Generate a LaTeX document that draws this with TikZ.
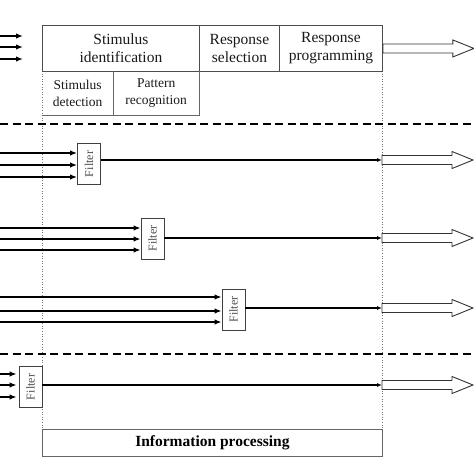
\documentclass[tikz,border=0pt]{standalone}
\usepackage{fontspec}
\setmainfont{Liberation Serif}
\usetikzlibrary{arrows.meta}
\begin{document}
\begin{tikzpicture}[x=1pt,y=-1pt,
  boxline/.style={draw=black!70,line width=0.9pt},
  subline/.style={draw=black!60,line width=0.7pt},
  txt/.style={text=black!90,font=\fontsize{15.5}{18}\selectfont,align=center,inner sep=0pt},
  subtxt/.style={text=black!90,font=\fontsize{13.5}{16.5}\selectfont,align=center,inner sep=0pt},
  filterbox/.style={draw=black!75,line width=0.8pt,minimum width=23pt,minimum height=41pt,inner sep=0pt,
    text=black!70,font=\fontsize{12}{12}\selectfont},
  inarrow/.style={line width=1.8pt,-{Latex[length=7pt,width=5.5pt]}},
  outarrow/.style={line width=1.4pt,-{Latex[length=5pt,width=4pt]}},
  hollowline/.style={draw=black!80,line width=0.9pt,fill=white},
  divider/.style={line width=2pt,dash pattern=on 8pt off 4.5pt},
  guide/.style={draw=black!55,line width=0.6pt,dotted},
  harrow/.pic={\draw[hollowline] (0,-4.5) -- (70,-4.5) -- (70,-8.5) -- (91,0) -- (70,8.5) -- (70,4.5) -- (0,4.5) -- cycle;}
]
\useasboundingbox (0,0) rectangle (474,474);

% guides
\coordinate (gl1) at (42,71);
\coordinate (gl2) at (42,429);
\coordinate (gr1) at (382,71);
\coordinate (gr2) at (382,429);
\draw[guide] (gl1) -- (gl2);
\draw[guide] (gr1) -- (gr2);

% top boxes
\node[boxline,minimum width=157pt,minimum height=46pt,anchor=north west,inner sep=0pt] (si) at (42,25) {};
\node[boxline,minimum width=80pt,minimum height=46pt,anchor=north west,inner sep=0pt] (rs) at (199,25) {};
\node[boxline,minimum width=103pt,minimum height=46pt,anchor=north west,inner sep=0pt] (rp) at (279,25) {};
\node[txt] at (si.center) {Stimulus\\identification};
\node[txt] at (rs.center) {Response\\selection};
\node[txt] at (rp.center) {Response\\programming};

\node[minimum width=71pt,minimum height=44pt,anchor=north west,inner sep=0pt] (sd) at (42,71) {};
\node[minimum width=86pt,minimum height=44pt,anchor=north west,inner sep=0pt] (pr) at (113,71) {};
\draw[subline] (sd.south west) -- (pr.south east) -- (pr.north east);
\draw[subline] (sd.north east) -- (sd.south east);
\node[subtxt] at (sd.center) {Stimulus\\detection};
\node[subtxt] at (pr.center) {Pattern\\recognition};

% top left free arrows
\foreach \y/\n in {36/a,47/b,59/c}{
  \coordinate (ts\n) at (0,\y);
  \coordinate (te\n) at (23,\y);
  \draw[inarrow] (ts\n) -- (te\n);
}
\pic at (rp.east) {harrow};

% dashed dividers
\coordinate (d1a) at (0,124); \coordinate (d1b) at (474,124);
\coordinate (d2a) at (0,354); \coordinate (d2b) at (474,354);
\draw[divider] (d1a) -- (d1b);
\draw[divider] (d2a) -- (d2b);

% filters
\node[filterbox] (f1) at (89,164) {\rotatebox{90}{Filter}};
\node[filterbox] (f2) at (152.5,238.5) {\rotatebox{90}{Filter}};
\node[filterbox] (f3) at (233.5,309.5) {\rotatebox{90}{Filter}};
\node[filterbox] (f4) at (30.5,387) {\rotatebox{90}{Filter}};

% inputs
\foreach \f/\ya/\yb/\yc in {f1/153/165/177, f2/228/239/250, f3/297/311/322}{
  \foreach \y [count=\i] in {\ya,\yb,\yc}{
    \coordinate (\f s\i) at (0,\y);
    \draw[inarrow] (\f s\i) -- (\f.west |- \f s\i);
  }
}
\foreach \y [count=\i] in {374,385,397}{
  \coordinate (f4s\i) at (0,\y);
  \draw[inarrow] (f4s\i) -- ([xshift=-2pt]f4.west |- f4s\i);
}

% outputs
\foreach \f/\y in {f1/160, f2/238, f3/308, f4/385}{
  \coordinate (\f o) at (382,\y);
  \draw[outarrow] (\f.east |- \f o) -- (\f o);
  \pic at (\f o) {harrow};
}

% information processing
\node[draw=black!60,line width=0.8pt,minimum width=340pt,minimum height=27pt,anchor=north west,inner sep=0pt] (ip) at (42,429) {};
\node[text=black,font=\fontsize{15.5}{18}\selectfont\bfseries,inner sep=0pt] at (ip.center) {Information processing};
\end{tikzpicture}
\end{document}
